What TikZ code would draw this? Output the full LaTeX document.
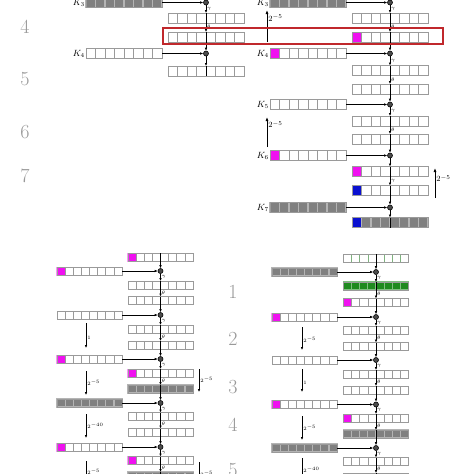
\documentclass[tikz,border=0pt]{standalone}
\usepackage{amsmath,amssymb}
\usepackage{xcolor}
\usepackage{tikz}
\usetikzlibrary{calc,arrows.meta}
\definecolor{cellline}{HTML}{9A9A9A}
\definecolor{darkcell}{HTML}{808080}
\definecolor{lightcell}{HTML}{B4B4B4}
\definecolor{mag}{HTML}{F010F0}
\definecolor{blu}{HTML}{0A10D0}
\definecolor{grn}{HTML}{1E8A1E}
\definecolor{grnline}{HTML}{7FBF7F}
\definecolor{roundgray}{HTML}{999999}
\definecolor{mark}{HTML}{C0282C}
\tikzset{
  cellW/.style={draw=cellline, fill=white, line width=0.7pt},
  cellWg/.style={draw=grnline!80!gray, fill=white, line width=0.7pt},
  cellG/.style={draw=lightcell, fill=darkcell, line width=1.1pt},
  cellM/.style={draw=mag!45, fill=mag, line width=1pt},
  cellB/.style={draw=blu!35, fill=blu, line width=1pt},
  cellGr/.style={draw=grnline, fill=grn, line width=1.1pt},
  rowbox/.style={draw=cellline, line width=0.7pt, inner sep=0pt, outer sep=0pt},
  xor/.style={circle, draw=black, fill=black!70, inner sep=0pt, minimum size=5pt, line width=0.6pt},
  flow/.style={-{Latex[length=3pt,width=2.6pt]}, line width=0.8pt},
  probflow/.style={-{Latex[length=4pt,width=3pt]}, line width=0.9pt},
  through/.style={line width=0.8pt},
  oplab/.style={font=\fontsize{5}{5}\selectfont, inner sep=0.8pt, pos=0.45},
  keylab/.style={font=\fontsize{9}{9}\selectfont, inner sep=1pt, anchor=east},
  prob/.style={font=\fontsize{8}{8}\selectfont, inner sep=1pt},
  probs/.style={font=\fontsize{5.5}{5.5}\selectfont, inner sep=1pt},
  roundno/.style={text=roundgray, font=\fontsize{20}{20}\selectfont, inner sep=0pt},
  trailmark/.style={draw=mark, line width=1.1pt}
}
% one register of 8 cells: name, centre, cell width, cell height, first cell, other cells
\newcommand{\regrow}[6]{%
  \coordinate (#1-c) at #2;
  \node[#5, minimum width=#3pt, minimum height=#4pt, inner sep=0pt, outer sep=0pt] (#1-0) at ($(#1-c)+({-3.5*#3},0)$) {};
  \foreach \i in {1,...,7}
    \node[#6, minimum width=#3pt, minimum height=#4pt, inner sep=0pt, outer sep=0pt] (#1-\i) at ($(#1-c)+({(\i-3.5)*#3},0)$) {};
  \node[rowbox, minimum width=8*#3pt, minimum height=#4pt] (#1) at (#1-c) {};
}

\begin{document}
\begin{tikzpicture}[x=1pt,y=-1pt]
  \useasboundingbox (0,0) rectangle (474,474);
  \fill[white] (0,0) rectangle (474,474);

  % round numbers, upper part
  \node[roundno] (ru4) at (25,27) {4};
  \node[roundno] (ru5) at (25,79) {5};
  \node[roundno] (ru6) at (25,132) {6};
  \node[roundno] (ru7) at (25,176) {7};

  % upper left trail
  \regrow{kL3}{(124,2.5)}{9.5}{10}{cellG}{cellG}
  \node[keylab] (lkL3) at (kL3.west) {$K_3$};
  \node[xor] (xL3) at (206,2.5) {};
  \regrow{sL1}{(206,18)}{9.5}{10}{cellW}{cellW}
  \regrow{sL2}{(206,37)}{9.5}{10}{cellW}{cellW}
  \regrow{kL4}{(124,53.5)}{9.5}{10}{cellW}{cellW}
  \node[keylab] (lkL4) at (kL4.west) {$K_4$};
  \node[xor] (xL4) at (206,53.5) {};
  \regrow{sL3}{(206,71)}{9.5}{10}{cellW}{cellW}

  \coordinate (tL) at (206,-5);
  \draw[through] (tL) -- (xL3);
  \draw[flow] (kL3) -- (xL3);
  \draw[flow] (xL3) -- node[oplab,right]{$\gamma$} (sL1);
  \draw[flow] (sL1) -- node[oplab,right]{$\theta$} (sL2);
  \draw[flow] (sL2) -- (xL4);
  \draw[flow] (kL4) -- (xL4);
  \draw[flow] (xL4) -- (sL3);
  \foreach \s in {sL1,sL2,sL3} \draw[through] (\s.north) -- (\s.south);

  % upper right trail
  \regrow{kR3}{(308,2.5)}{9.5}{10}{cellG}{cellG}
  \node[keylab] (lkR3) at (kR3.west) {$K_3$};
  \node[xor] (xR3) at (390,2.5) {};
  \regrow{sR1}{(390,18)}{9.5}{10}{cellW}{cellW}
  \regrow{sR2}{(390,37)}{9.5}{10}{cellM}{cellW}
  \regrow{kR4}{(308,53.5)}{9.5}{10}{cellM}{cellW}
  \node[keylab] (lkR4) at (kR4.west) {$K_4$};
  \node[xor] (xR4) at (390,53.5) {};
  \regrow{sR3}{(390,70.5)}{9.5}{10}{cellW}{cellW}
  \regrow{sR4}{(390,89)}{9.5}{10}{cellW}{cellW}
  \regrow{kR5}{(308,104.5)}{9.5}{10}{cellW}{cellW}
  \node[keylab] (lkR5) at (kR5.west) {$K_5$};
  \node[xor] (xR5) at (390,104.5) {};
  \regrow{sR5}{(390,121)}{9.5}{10}{cellW}{cellW}
  \regrow{sR6}{(390,139)}{9.5}{10}{cellW}{cellW}
  \regrow{kR6}{(308,155.5)}{9.5}{10}{cellM}{cellW}
  \node[keylab] (lkR6) at (kR6.west) {$K_6$};
  \node[xor] (xR6) at (390,155.5) {};
  \regrow{sR7}{(390,171.5)}{9.5}{10}{cellM}{cellW}
  \regrow{sR8}{(390,190.5)}{9.5}{10}{cellB}{cellW}
  \regrow{kR7}{(308,207.5)}{9.5}{10}{cellG}{cellG}
  \node[keylab] (lkR7) at (kR7.west) {$K_7$};
  \node[xor] (xR7) at (390,207.5) {};
  \regrow{sR9}{(390,222.5)}{9.5}{10}{cellB}{cellG}

  \coordinate (tR) at (390,-5);
  \draw[through] (tR) -- (xR3);
  \draw[flow] (kR3) -- (xR3);
  \draw[flow] (xR3) -- node[oplab,right]{$\gamma$} (sR1);
  \draw[flow] (sR1) -- node[oplab,right]{$\theta$} (sR2);
  \draw[flow] (sR2) -- (xR4);
  \draw[flow] (kR4) -- (xR4);
  \draw[flow] (xR4) -- node[oplab,right]{$\gamma$} (sR3);
  \draw[flow] (sR3) -- node[oplab,right]{$\theta$} (sR4);
  \draw[flow] (sR4) -- (xR5);
  \draw[flow] (kR5) -- (xR5);
  \draw[flow] (xR5) -- node[oplab,right]{$\gamma$} (sR5);
  \draw[flow] (sR5) -- node[oplab,right]{$\theta$} (sR6);
  \draw[flow] (sR6) -- (xR6);
  \draw[flow] (kR6) -- (xR6);
  \draw[flow] (xR6) -- (sR7);
  \draw[flow] (sR7) -- node[oplab,right]{$\gamma$} (sR8);
  \draw[flow] (sR8) -- (xR7);
  \draw[flow] (kR7) -- (xR7);
  \draw[flow] (xR7) -- (sR9);
  \foreach \s in {sR1,sR2,sR3,sR4,sR5,sR6,sR7,sR8,sR9} \draw[through] (\s.north) -- (\s.south);

  % probabilities, upper right
  \coordinate (pU1a) at (267,42);  \coordinate (pU1b) at (267,10);
  \coordinate (pU2a) at (267,147); \coordinate (pU2b) at (267,117);
  \coordinate (pU3a) at (435,198); \coordinate (pU3b) at (435,168);
  \draw[probflow] (pU1a) -- node[prob,right,pos=0.75]{$2^{-5}$} (pU1b);
  \draw[probflow] (pU2a) -- node[prob,right,pos=0.75]{$2^{-5}$} (pU2b);
  \draw[probflow] (pU3a) -- node[prob,right,pos=0.65]{$2^{-5}$} (pU3b);

  % highlighted round
  \draw[trailmark] (163,28) rectangle (443,44);

  % round numbers, lower part
  \node[roundno] (rl1) at (233,292) {1};
  \node[roundno] (rl2) at (233,339) {2};
  \node[roundno] (rl3) at (233,387) {3};
  \node[roundno] (rl4) at (233,425) {4};
  \node[roundno] (rl5) at (233,470) {5};

  % lower left trail
  \regrow{a0}{(160.5,257)}{8.15}{8}{cellM}{cellW}
  \regrow{ka1}{(89.5,271)}{8.15}{8}{cellM}{cellW}
  \node[xor] (xa1) at (160.5,271) {};
  \regrow{a1}{(160.5,285)}{8.15}{8}{cellW}{cellW}
  \regrow{a2}{(160.5,300.5)}{8.15}{8}{cellW}{cellW}
  \regrow{ka2}{(89.5,315)}{8.15}{8}{cellW}{cellW}
  \node[xor] (xa2) at (160.5,315) {};
  \regrow{a3}{(160.5,329)}{8.15}{8}{cellW}{cellW}
  \regrow{a4}{(160.5,345)}{8.15}{8}{cellW}{cellW}
  \regrow{ka3}{(89.5,359)}{8.15}{8}{cellM}{cellW}
  \node[xor] (xa3) at (160.5,359) {};
  \regrow{a5}{(160.5,373)}{8.15}{8}{cellM}{cellW}
  \regrow{a6}{(160.5,389)}{8.15}{8}{cellG}{cellG}
  \regrow{ka4}{(89.5,403)}{8.15}{8}{cellG}{cellG}
  \node[xor] (xa4) at (160.5,403) {};
  \regrow{a7}{(160.5,416.5)}{8.15}{8}{cellW}{cellW}
  \regrow{a8}{(160.5,432.5)}{8.15}{8}{cellW}{cellW}
  \regrow{ka5}{(89.5,447)}{8.15}{8}{cellM}{cellW}
  \node[xor] (xa5) at (160.5,447) {};
  \regrow{a9}{(160.5,460.5)}{8.15}{8}{cellM}{cellW}
  \regrow{a10}{(160.5,476)}{8.15}{8}{cellG}{cellG}

  \draw[flow] (a0) -- (xa1);
  \foreach \k/\s/\t [count=\j] in {1/1/2,2/3/4,3/5/6,4/7/8,5/9/10} {
    \draw[flow] (ka\k) -- (xa\k);
    \draw[flow] (xa\k) -- node[oplab,right]{$\gamma$} (a\s);
    \draw[flow] (a\s) -- node[oplab,right]{$\theta$} (a\t);
  }
  \foreach \s/\k in {2/2,4/3,6/4,8/5} \draw[flow] (a\s) -- (xa\k);
  \foreach \s in {0,...,10} \draw[through] (a\s.north) -- (a\s.south);

  % probabilities, lower left
  \coordinate (pa1a) at (86,323); \coordinate (pa1b) at (86,348);
  \coordinate (pa2a) at (86,371); \coordinate (pa2b) at (86,395);
  \coordinate (pa3a) at (86,414); \coordinate (pa3b) at (86,438);
  \coordinate (pa4a) at (86,461); \coordinate (pa4b) at (86,484);
  \coordinate (pa5a) at (199,369); \coordinate (pa5b) at (199,392);
  \coordinate (pa6a) at (199,462); \coordinate (pa6b) at (199,485);
  \draw[flow] (pa1a) -- node[probs,right,pos=0.6]{$1$} (pa1b);
  \draw[flow] (pa2a) -- node[probs,right,pos=0.5]{$2^{-5}$} (pa2b);
  \draw[flow] (pa3a) -- node[probs,right,pos=0.5]{$2^{-40}$} (pa3b);
  \draw[flow] (pa4a) -- node[probs,right,pos=0.45]{$2^{-5}$} (pa4b);
  \draw[flow] (pa5a) -- node[probs,right,pos=0.45]{$2^{-5}$} (pa5b);
  \draw[flow] (pa6a) -- node[probs,right,pos=0.5]{$2^{-5}$} (pa6b);

  % lower right trail
  \regrow{b0}{(376,258)}{8.15}{8}{cellWg}{cellWg}
  \regrow{kb1}{(304.5,272)}{8.15}{8}{cellG}{cellG}
  \node[xor] (xb1) at (376,272) {};
  \regrow{b1}{(376,286)}{8.15}{8}{cellGr}{cellGr}
  \regrow{b2}{(376,302.5)}{8.15}{8}{cellM}{cellW}
  \regrow{kb2}{(304.5,317)}{8.15}{8}{cellM}{cellW}
  \node[xor] (xb2) at (376,317) {};
  \regrow{b3}{(376,330)}{8.15}{8}{cellW}{cellW}
  \regrow{b4}{(376,346.5)}{8.15}{8}{cellW}{cellW}
  \regrow{kb3}{(304.5,360)}{8.15}{8}{cellW}{cellW}
  \node[xor] (xb3) at (376,360) {};
  \regrow{b5}{(376,374)}{8.15}{8}{cellW}{cellW}
  \regrow{b6}{(376,390)}{8.15}{8}{cellW}{cellW}
  \regrow{kb4}{(304.5,404.5)}{8.15}{8}{cellM}{cellW}
  \node[xor] (xb4) at (376,404.5) {};
  \regrow{b7}{(376,418)}{8.15}{8}{cellM}{cellW}
  \regrow{b8}{(376,434)}{8.15}{8}{cellG}{cellG}
  \regrow{kb5}{(304.5,448)}{8.15}{8}{cellG}{cellG}
  \node[xor] (xb5) at (376,448) {};
  \regrow{b9}{(376,461.5)}{8.15}{8}{cellW}{cellW}
  \regrow{b10}{(376,477)}{8.15}{8}{cellW}{cellW}

  \draw[flow] (b0) -- (xb1);
  \foreach \k/\s/\t in {1/1/2,2/3/4,3/5/6,4/7/8,5/9/10} {
    \draw[flow] (kb\k) -- (xb\k);
    \draw[flow] (xb\k) -- node[oplab,right]{$\gamma$} (b\s);
    \draw[flow] (b\s) -- node[oplab,right]{$\theta$} (b\t);
  }
  \foreach \s/\k in {2/2,4/3,6/4,8/5} \draw[flow] (b\s) -- (xb\k);
  \foreach \s in {0,...,10} \draw[through] (b\s.north) -- (b\s.south);

  % probabilities, lower right
  \coordinate (pb1a) at (302,327); \coordinate (pb1b) at (302,350);
  \coordinate (pb2a) at (302,369); \coordinate (pb2b) at (302,392);
  \coordinate (pb3a) at (302,416); \coordinate (pb3b) at (302,440);
  \coordinate (pb4a) at (302,458); \coordinate (pb4b) at (302,482);
  \draw[flow] (pb1a) -- node[probs,right,pos=0.55]{$2^{-5}$} (pb1b);
  \draw[flow] (pb2a) -- node[probs,right,pos=0.6]{$1$} (pb2b);
  \draw[flow] (pb3a) -- node[probs,right,pos=0.5]{$2^{-5}$} (pb3b);
  \draw[flow] (pb4a) -- node[probs,right,pos=0.5]{$2^{-40}$} (pb4b);
\end{tikzpicture}
\end{document}
